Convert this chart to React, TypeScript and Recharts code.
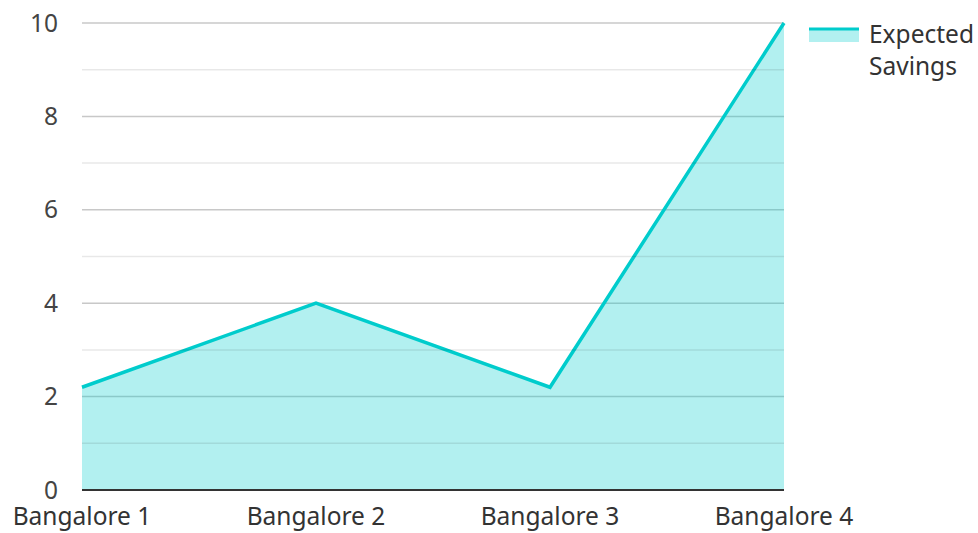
import React from "react";
import { AreaChart, Area, XAxis, YAxis, CartesianGrid, Legend, ReferenceLine } from "recharts";

const categories = ["Bangalore 1", "Bangalore 2", "Bangalore 3", "Bangalore 4"];
const expectedSavings = [2.2, 4, 2.2, 10];
const majorTicks = [0, 2, 4, 6, 8, 10];
const minorTicks = [1, 3, 5, 7, 9];
const seriesName = "Expected Savings";

const data = categories.map((c, i) => ({ name: c, value: expectedSavings[i] }));

const FONT = "'Noto Sans', 'Open Sans', sans-serif";
const COLOR = "#00cccc";

const LegendContent = () => (
  <div style={{ display: "flex", alignItems: "flex-start", fontFamily: FONT, fontSize: 24.5, color: "#333", lineHeight: "32px" }}>
    <svg width={50} height={20} style={{ marginTop: 8, marginRight: 10, flex: "none" }}>
      <rect x={0} y={3} width={50} height={13} fill={COLOR} fillOpacity={0.3} />
      <line x1={0} y1={3} x2={50} y2={3} stroke={COLOR} strokeWidth={3} />
    </svg>
    <div>Expected<br />Savings</div>
  </div>
);

export default function App() {
  return (
    <div style={{ position: "absolute", left: 0, top: 0 }}>
      <AreaChart width={978} height={533} data={data} margin={{ top: 23, right: 25, bottom: 0, left: 0 }}>
        <CartesianGrid vertical={false} stroke="#c8c8c8" strokeWidth={1.5} />
        <XAxis
          dataKey="name"
          axisLine={{ stroke: "#333", strokeWidth: 2 }}
          tickLine={false}
          height={43}
          tick={{ fontFamily: FONT, fontSize: 24.5, fill: "#333" }}
          tickMargin={12}
          interval={0}
        />
        <YAxis
          domain={[0, 10]}
          ticks={majorTicks}
          width={82}
          axisLine={false}
          tickLine={false}
          tickMargin={18}
          tick={{ fontFamily: FONT, fontSize: 24.5, fill: "#444" }}
        />
        <Area
          type="linear"
          dataKey="value"
          name={seriesName}
          stroke={COLOR}
          strokeWidth={3.5}
          fill={COLOR}
          fillOpacity={0.3}
          isAnimationActive={false}
          dot={false}
          activeDot={false}
        />
        {minorTicks.map((v) => (
          <ReferenceLine key={v} y={v} stroke="#000" strokeOpacity={0.09} strokeWidth={1.5} />
        ))}
        <Legend
          layout="vertical"
          align="right"
          verticalAlign="top"
          content={<LegendContent />}
          wrapperStyle={{ width: 169, top: 18, left: 809 }}
        />
      </AreaChart>
    </div>
  );
}
